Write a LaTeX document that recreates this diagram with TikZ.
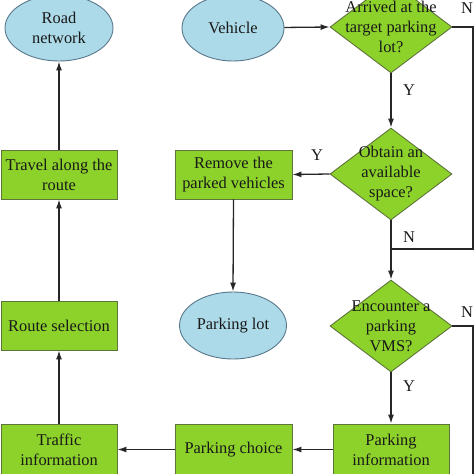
\documentclass[tikz,border=0pt]{standalone}
\usepackage{fontspec}
\setmainfont{Liberation Serif}
\usetikzlibrary{shapes.geometric,arrows.meta}
\definecolor{boxgreen}{RGB}{140,210,42}
\definecolor{boxline}{RGB}{95,115,60}
\definecolor{ellblue}{RGB}{172,218,232}
\definecolor{ellline}{RGB}{90,120,140}
\tikzset{
  every node/.style={font=\fontsize{16.4}{20}\selectfont, text=black!90},
  box/.style={draw=boxline, fill=boxgreen, line width=0.9pt, inner sep=0pt, align=center, minimum width=116pt, minimum height=49pt},
  ell/.style={ellipse, draw=ellline, fill=ellblue, line width=0.9pt, inner sep=0pt, align=center, minimum height=66pt},
  dia/.style={diamond, draw=boxline, fill=boxgreen, line width=0.9pt, inner sep=0pt, minimum width=122pt, minimum height=92pt},
  txt/.style={align=center, inner sep=0pt},
  lbl/.style={inner sep=0pt},
  conn/.style={line width=1.3pt, draw=black!85},
  arr/.style={conn, -{Latex[length=9pt,width=6pt]}}
}
\begin{document}
\begin{tikzpicture}[x=1pt,y=-1pt]
\useasboundingbox (0,0) rectangle (474,474);
\clip (0,0) rectangle (474,474);
% ellipses
\node[ell, minimum width=108pt] (road) at (59,28) {Road\\network};
\node[ell, minimum width=102pt] (veh) at (233,28) {Vehicle};
\node[ell, minimum width=107pt, minimum height=67pt] (lot) at (233,325.5) {Parking lot};
% diamonds
\node[dia] (d1) at (391,27) {};
\node[txt] (t1) at (d1) {Arrived at the\\target parking\\lot?};
\node[dia] (d2) at (391,174) {};
\node[txt] (t2) at (d2) {Obtain an\\available\\space?};
\node[dia] (d3) at (391,326) {};
\node[txt] (t3) at (d3) {Encounter a\\parking\\VMS?};
% boxes
\node[box] (travel) at (59,174.5) {Travel along the\\route};
\node[box, minimum width=117pt] (remove) at (233.5,174.5) {Remove the\\parked vehicles};
\node[box] (route) at (59,325.5) {Route selection};
\node[box, minimum height=51pt] (traffic) at (59,449.5) {Traffic\\information};
\node[box, minimum width=117pt, minimum height=51pt] (choice) at (233.5,449.5) {Parking choice};
\node[box, minimum height=51pt] (pinfo) at (391,449.5) {Parking\\information};
% coordinates
\coordinate (r1) at (473,27);
\coordinate (r2) at (473,249);
\coordinate (j) at (391,249);
\coordinate (r3) at (473,326);
\coordinate (r4) at (473,480);
% connectors
\draw[arr] (veh) -- (d1.west);
\draw[conn] (d1.east) -- (r1) -- (r2) -- (j);
\draw[arr] (d1.south) -- (d2.north);
\draw[arr] (d2.west) -- (remove.east);
\draw[conn] (d2.south) -- (j);
\draw[arr] (j) -- (d3.north);
\draw[arr] (remove.south) -- (lot.north);
\draw[conn] (d3.east) -- (r3) -- (r4);
\draw[arr] (d3.south) -- (pinfo.north);
\draw[arr] (pinfo.west) -- (choice.east);
\draw[arr] (choice.west) -- (traffic.east);
\draw[arr] (traffic.north) -- (route.south);
\draw[arr] (route.north) -- (travel.south);
\draw[arr] (travel.north) -- (road.south);
% labels
\node[lbl] (n1) at (467,8) {N};
\node[lbl] (y1) at (409,90) {Y};
\node[lbl] (y2) at (317,155) {Y};
\node[lbl] (n2) at (409,237) {N};
\node[lbl] (n3) at (467,312) {N};
\node[lbl] (y3) at (409,386) {Y};
\end{tikzpicture}
\end{document}
